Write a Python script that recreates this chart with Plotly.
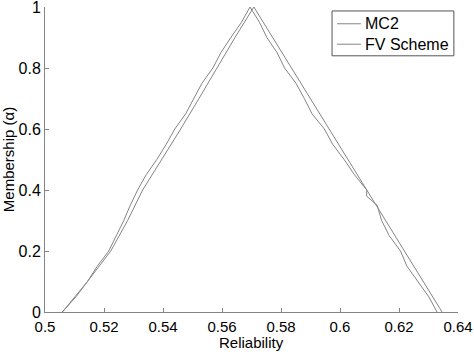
import plotly.graph_objects as go

# MC2 (Monte Carlo, wiggly) membership curve
mc2_alpha = [0, 0.05, 0.1, 0.15, 0.2, 0.25, 0.3, 0.35, 0.4, 0.45, 0.5, 0.55, 0.6, 0.65, 0.7,
             0.75, 0.8, 0.85, 0.9, 0.95, 1.0,
             0.95, 0.9, 0.85, 0.8, 0.75, 0.7, 0.65, 0.6, 0.55, 0.5, 0.45, 0.4, 0.38, 0.35,
             0.3, 0.25, 0.2, 0.15, 0.1, 0.05, 0]
mc2_rel = [0.5059, 0.5105, 0.5144, 0.5177, 0.5216, 0.5241, 0.5267, 0.5289, 0.5314, 0.5343,
           0.5379, 0.5411, 0.5440, 0.5477, 0.5505, 0.5532, 0.5569, 0.5596, 0.5630, 0.5666,
           0.5695,
           0.5727, 0.5752, 0.5787, 0.5812, 0.5851, 0.5879, 0.5905, 0.5947, 0.5975, 0.6014,
           0.6049, 0.6091, 0.6090, 0.6126, 0.6141, 0.6167, 0.6205, 0.6227, 0.6265, 0.6301,
           0.6329]

# FV Scheme membership curve
fv_alpha = [0, 0.1, 0.2, 0.3, 0.4, 0.5, 0.6, 0.7, 0.8, 0.9, 1.0, 0.75, 0.5, 0.25, 0]
fv_rel = [0.5059, 0.5144, 0.5223, 0.5280, 0.5331, 0.5396, 0.5460, 0.5522, 0.5583, 0.5644,
          0.5708, 0.5868, 0.6028, 0.6188, 0.6346]

series_names = ["MC2", "FV Scheme"]

x_ticks = [0.5, 0.52, 0.54, 0.56, 0.58, 0.6, 0.62, 0.64]
x_tick_text = ["0.5", "0.52", "0.54", "0.56", "0.58", "0.6", "0.62", "0.64"]
y_ticks = [0, 0.2, 0.4, 0.6, 0.8, 1]
y_tick_text = ["0", "0.2", "0.4", "0.6", "0.8", "1"]

FONT = "Liberation Sans, Arial, Helvetica, sans-serif"
LINE = "#858585"

fig = go.Figure()
fig.add_trace(go.Scatter(x=mc2_rel, y=mc2_alpha, mode="lines", name=series_names[0],
                         line=dict(color=LINE, width=1), showlegend=False))
fig.add_trace(go.Scatter(x=fv_rel, y=fv_alpha, mode="lines", name=series_names[1],
                         line=dict(color=LINE, width=1), showlegend=False))

# Manual MATLAB-style legend box (paper coordinates)
fig.add_shape(type="rect", xref="paper", yref="paper", x0=0.695, x1=0.990,
              y0=0.840, y1=0.987, line=dict(color="#555555", width=1),
              fillcolor="white", layer="above")
legend_rows_y = [0.945, 0.878]
for name, yy in zip(series_names, legend_rows_y):
    fig.add_shape(type="line", xref="paper", yref="paper", x0=0.707, x1=0.765,
                  y0=yy, y1=yy, line=dict(color=LINE, width=1), layer="above")
    fig.add_annotation(xref="paper", yref="paper", x=0.770, y=yy, text=name,
                       showarrow=False, xanchor="left", yanchor="middle",
                       font=dict(size=16, family=FONT, color="black"))

# x-axis title placed like MATLAB's
fig.add_annotation(xref="paper", yref="paper", x=0.5, y=-0.1307, text="Reliability",
                   showarrow=False, xanchor="center", yanchor="bottom", borderpad=0,
                   font=dict(size=15, family=FONT, color="black"))

fig.update_layout(
    width=474, height=352,
    margin=dict(l=45, r=16, t=7, b=40),
    paper_bgcolor="white", plot_bgcolor="white",
    font=dict(family=FONT, size=16, color="black"),
    showlegend=False,
    xaxis=dict(range=[0.5, 0.64], tickvals=x_ticks, ticktext=x_tick_text,
               ticks="inside", ticklen=4, tickcolor=LINE, showline=True,
               linecolor=LINE, linewidth=1, showgrid=False, zeroline=False,
               ticklabelstandoff=1, ticklabeloverflow="allow", automargin=False,
               tickfont=dict(size=15)),
    yaxis=dict(range=[0, 1], tickvals=y_ticks, ticktext=y_tick_text,
               ticks="inside", ticklen=4, tickcolor=LINE, showline=True,
               linecolor=LINE, linewidth=1, showgrid=False, zeroline=False,
               ticklabelstandoff=0, ticklabeloverflow="allow", automargin=False,
               title=dict(text="Membership (α)", standoff=2, font=dict(size=15)),
               tickfont=dict(size=16)),
)

fig.write_html("out.html")
